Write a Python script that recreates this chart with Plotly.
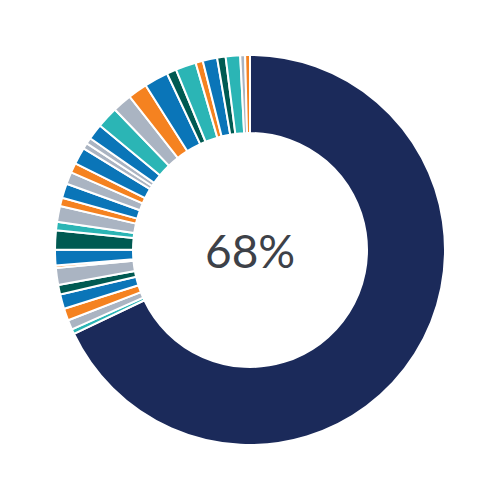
import plotly.graph_objects as go

NAVY="#1b2a5a"; BLUE="#0a75b8"; TEAL="#2bb5b5"; ORANGE="#f58220"; GRAY="#aab4c2"; DG="#005a52"
labels=[f"S{i}" for i in range(32)]
values=[68,0.4,0.8,1.0,1.2,0.8,1.4,0.2,1.3,1.6,0.7,1.3,0.7,1.2,1.0,0.8,1.4,0.5,0.5,1.3,1.8,1.6,1.6,2.0,0.8,1.7,0.6,1.2,0.7,1.2,0.4,0.4]
colors=[NAVY,TEAL,GRAY,ORANGE,BLUE,DG,GRAY,ORANGE,BLUE,DG,TEAL,GRAY,ORANGE,BLUE,GRAY,ORANGE,BLUE,GRAY,GRAY,BLUE,TEAL,GRAY,ORANGE,BLUE,DG,TEAL,ORANGE,BLUE,DG,TEAL,GRAY,ORANGE]

fig=go.Figure(go.Pie(labels=labels,values=values,hole=0.6,sort=False,direction="clockwise",rotation=0,
    marker=dict(colors=colors,line=dict(color="white",width=2)),textinfo="none",hoverinfo="skip"))
fig.update_layout(width=500,height=500,margin=dict(l=47,r=63,t=47,b=63),showlegend=False,
    paper_bgcolor="white",
    annotations=[dict(text="68%",x=0.5,y=0.5,xref="paper",yref="paper",showarrow=False,
        font=dict(family="Lato",size=46,color="#3d4148"))])
fig.write_html("out.html")
